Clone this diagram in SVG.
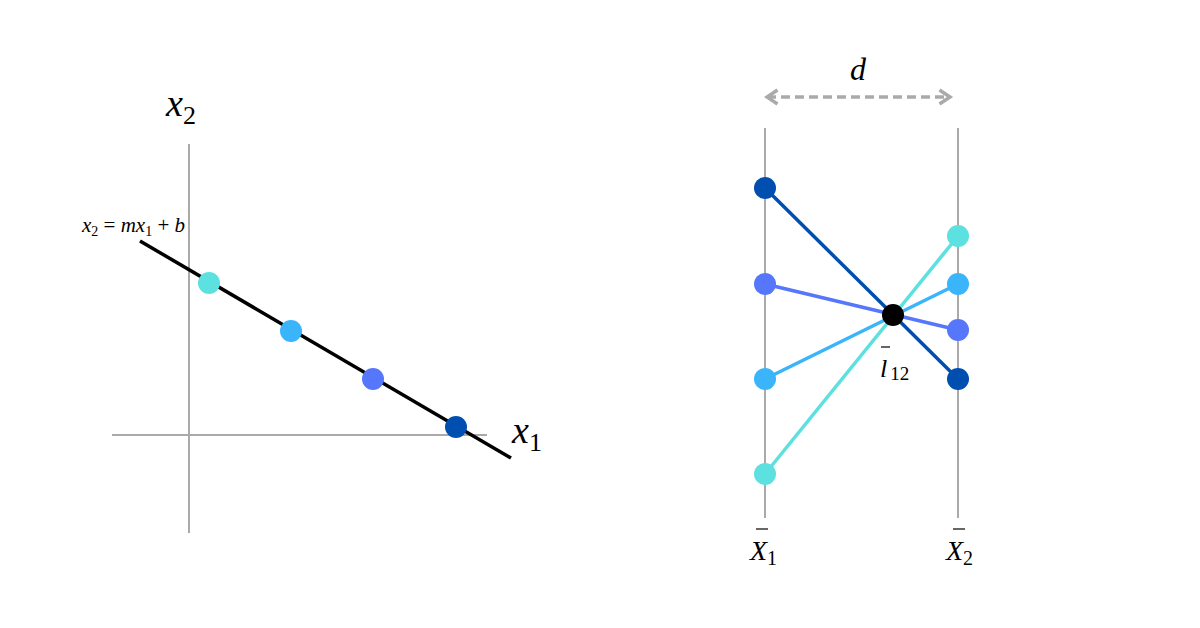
<svg xmlns="http://www.w3.org/2000/svg" width="1200" height="628" viewBox="0 0 1200 628">
<style>
.ax{stroke:#aaaaaa;stroke-width:2;fill:none}
.m{font-family:"Liberation Serif",serif;font-style:italic;fill:#000}
.s{font-family:"Liberation Serif",serif;font-style:normal;fill:#000}
.c1{fill:#5ce0e0}.c2{fill:#3ab4fb}.c3{fill:#5677fb}.c4{fill:#004fb0}
</style>
<defs>
<marker id="ch" viewBox="0 0 10 10" refX="8" refY="5" markerWidth="5" markerHeight="5" orient="auto-start-reverse"><path d="M2,1 L8,5 L2,9" fill="none" stroke="#aaaaaa" stroke-width="2"/></marker>
</defs>
<rect width="1200" height="628" fill="#fff"/>
<g id="left-axes">
<line class="ax" x1="189" y1="144" x2="189" y2="533"/>
<line class="ax" x1="112" y1="435" x2="487" y2="435"/>
<text class="m" x="166" y="116" font-size="38">x<tspan class="s" font-size="26" dy="8">2</tspan></text>
<text class="m" x="512" y="443" font-size="38">x<tspan class="s" font-size="26" dy="8">1</tspan></text>
<text class="m" x="82" y="232" font-size="21">x<tspan class="s" font-size="14" dy="4">2</tspan><tspan class="s" dy="-4"> = </tspan>mx<tspan class="s" font-size="14" dy="4">1</tspan><tspan class="s" dy="-4"> + </tspan>b</text>
</g>
<g id="connectors">
<line x1="140" y1="241" x2="511" y2="458" stroke="#000" stroke-width="3.5"/>
<line x1="767" y1="97" x2="950" y2="97" stroke="#aaaaaa" stroke-width="3.5" stroke-dasharray="9,5" marker-start="url(#ch)" marker-end="url(#ch)"/>
<line x1="765" y1="188" x2="958" y2="379" stroke="#004fb0" stroke-width="3.5"/>
<line x1="765" y1="284" x2="958" y2="330" stroke="#5677fb" stroke-width="3.5"/>
<line x1="765" y1="379" x2="958" y2="284" stroke="#3ab4fb" stroke-width="3.5"/>
<line x1="765" y1="474" x2="958" y2="236" stroke="#5ce0e0" stroke-width="3.5"/>
</g>
<g id="left-points">
<circle class="c1" cx="209" cy="283" r="11"/>
<circle class="c2" cx="291" cy="331" r="11"/>
<circle class="c3" cx="373" cy="379" r="11"/>
<circle class="c4" cx="456" cy="427" r="11"/>
</g>
<g id="parallel-axes">
<line class="ax" x1="765" y1="128" x2="765" y2="518"/>
<line class="ax" x1="958" y1="128" x2="958" y2="518"/>
<text class="m" x="850" y="80" font-size="32">d</text>
<line x1="756" y1="529" x2="768" y2="529" stroke="#000" stroke-width="1.2"/>
<text class="m" x="750" y="560" font-size="28">X<tspan class="s" font-size="20" dy="5">1</tspan></text>
<line x1="953" y1="529" x2="965" y2="529" stroke="#000" stroke-width="1.2"/>
<text class="m" x="946" y="560" font-size="28">X<tspan class="s" font-size="20" dy="5">2</tspan></text>
</g>
<g id="right-points">
<circle class="c4" cx="765" cy="188" r="11"/>
<circle class="c3" cx="765" cy="284" r="11"/>
<circle class="c2" cx="765" cy="379" r="11"/>
<circle class="c1" cx="765" cy="474" r="11"/>
<circle class="c1" cx="958" cy="236" r="11"/>
<circle class="c2" cx="958" cy="284" r="11"/>
<circle class="c3" cx="958" cy="330" r="11"/>
<circle class="c4" cx="958" cy="379" r="11"/>
</g>
<g id="l12">
<circle cx="893" cy="315" r="11" fill="#000"/>
<line x1="881" y1="347" x2="890" y2="347" stroke="#000" stroke-width="1.2"/>
<text class="m" x="880" y="377" font-size="26">l<tspan class="s" font-size="19" dx="3" dy="3">12</tspan></text>
</g>
</svg>
